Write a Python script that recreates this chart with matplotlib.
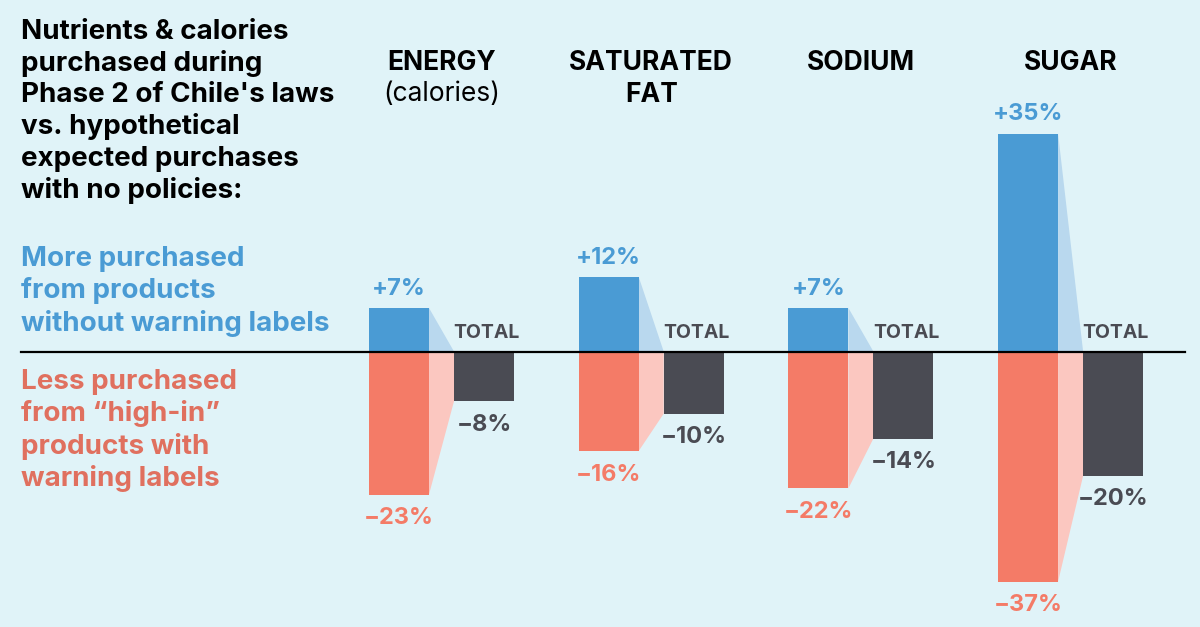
import matplotlib
matplotlib.use("Agg")
import matplotlib.pyplot as plt
from matplotlib.patches import Polygon

plt.rcParams['font.family'] = ['Inter', 'DejaVu Sans']

# data (percent change vs. no-policy counterfactual)
nutrients = ["ENERGY", "SATURATED\nFAT", "SODIUM", "SUGAR"]
subtitles = ["(calories)", "", "", ""]
more_purchased = [7, 12, 7, 35]       # from products without warning labels
less_purchased = [-23, -16, -22, -37]  # from "high-in" products with labels
totals = [-8, -10, -14, -20]

bg = "#e0f3f8"
blue = "#4a9bd4"
red = "#f47b67"
light_blue = "#b9d8ee"
light_red = "#fbc7c0"
dark = "#4a4b53"
red_text = "#e0705f"

fig = plt.figure(figsize=(12, 6.27), dpi=100, facecolor=bg)
ax = fig.add_axes([0, 0, 1, 1])
ax.set_facecolor(bg)

W, H = 1200, 627
step = 209.7  # pixels between groups
px_per_pct = 6.22
base_y = 351.5
x0 = 369
ax.set_xlim(-x0 / step, (W - x0) / step)
ax.set_ylim(-(H - base_y) / px_per_pct, base_y / px_per_pct)
ax.axis("off")

bw = 60 / step
gap = 25 / step

for i in range(len(nutrients)):
    xl = i
    xr = i + bw + gap
    up, dn, tot = more_purchased[i], less_purchased[i], totals[i]
    # connectors
    ax.add_patch(Polygon([(xl + bw, up), (xr, 0), (xl + bw, 0)],
                         closed=True, facecolor=light_blue, edgecolor="none", zorder=1))
    ax.add_patch(Polygon([(xl + bw, 0), (xl + bw, dn), (xr, tot), (xr, 0)],
                         closed=True, facecolor=light_red, edgecolor="none", zorder=1))
    ax.bar(xl, up, width=bw, align="edge", color=blue, zorder=2)
    ax.bar(xl, dn, width=bw, align="edge", color=red, zorder=2)
    ax.bar(xr, tot, width=bw, align="edge", color=dark, zorder=2)

    ax.annotate(f"+{up}%", (xl + bw / 2, up), xytext=(0, 6), textcoords="offset points",
                ha="center", va="bottom", fontsize=17, fontweight="bold", color=blue)
    ax.annotate(f"\u2212{abs(dn)}%", (xl + bw / 2, dn), xytext=(0, -9), textcoords="offset points",
                ha="center", va="top", fontsize=17, fontweight="bold", color=red)
    ax.annotate(f"\u2212{abs(tot)}%", (xr + bw / 2, tot), xytext=(0, -9), textcoords="offset points",
                ha="center", va="top", fontsize=17, fontweight="bold", color=dark)
    ax.annotate("TOTAL", (xr + bw / 2, 0), xytext=(2, 7), textcoords="offset points",
                ha="center", va="bottom", fontsize=14, fontweight="bold", color=dark)

    cx = xl + (bw * 2 + gap) / 2
    ax.annotate(nutrients[i], (cx, 0), xycoords=("data", "figure fraction"),
                xytext=(cx, 1 - 50 / H), textcoords=("data", "figure fraction"),
                ha="center", va="top", fontsize=19, fontweight="bold", color="black",
                linespacing=1.32)
    if subtitles[i]:
        ax.annotate(subtitles[i], (cx, 0), xycoords=("data", "figure fraction"),
                    xytext=(cx, 1 - 81 / H), textcoords=("data", "figure fraction"),
                    ha="center", va="top", fontsize=19, color="black")

ax.axhline(0, xmin=21 / W, xmax=1185 / W, color="black", lw=1.6, zorder=3)

fig.text(21 / W, 1 - 19 / H,
         "Nutrients & calories\npurchased during\nPhase 2 of Chile's laws\nvs. hypothetical\n"
         "expected purchases\nwith no policies:",
         ha="left", va="top", fontsize=20, fontweight="bold", color="black", linespacing=1.25)
fig.text(21 / W, 1 - 246 / H,
         "More purchased\nfrom products\nwithout warning labels",
         ha="left", va="top", fontsize=20, fontweight="bold", color=blue, linespacing=1.25)
fig.text(21 / W, 1 - 369 / H,
         "Less purchased\nfrom \u201chigh-in\u201d\nproducts with\nwarning labels",
         ha="left", va="top", fontsize=20, fontweight="bold", color=red_text, linespacing=1.25)

fig.savefig("out.png", dpi=100, facecolor=bg)
